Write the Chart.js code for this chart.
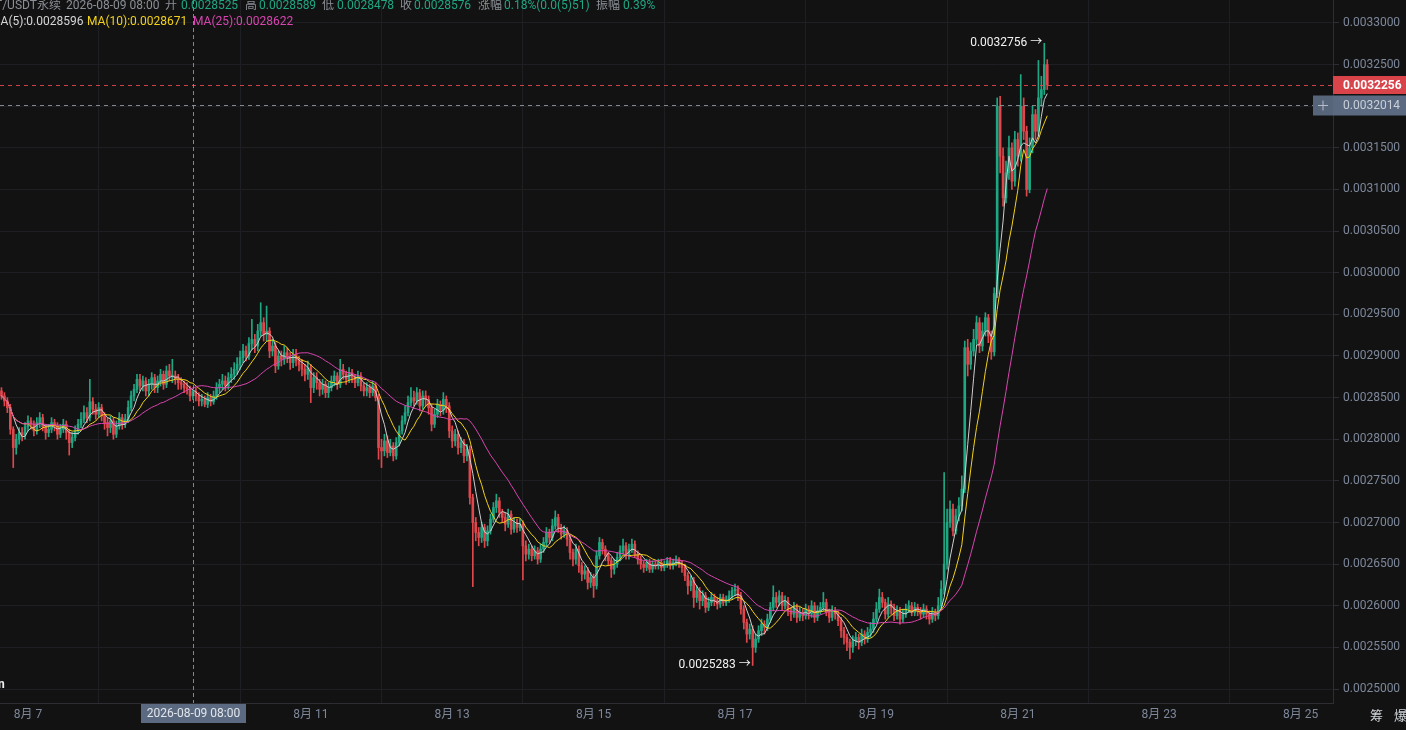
<!DOCTYPE html>
<html>
<head>
<meta charset="utf-8">
<script src="https://cdn.jsdelivr.net/npm/chart.js@4.4.1/dist/chart.umd.min.js"></script>
<style>
  html,body{margin:0;padding:0;background:#121212;overflow:hidden;}
  #wrap{position:relative;width:1406px;height:730px;background:#121212;}
  canvas{position:absolute;left:0;top:0;}
  .t{position:absolute;font-family:Roboto,"Noto Sans CJK SC",sans-serif;font-size:12px;line-height:12px;white-space:nowrap;}
  .g{color:#8b8f96;} .v{color:#1fa783;}
</style>
</head>
<body>
<div id="wrap">
  <canvas id="c" width="1406" height="730"></canvas>
  <!-- header row 1 -->
  <span class="t g" style="left:-5px;top:-1px">T/USDT永续</span>
  <span class="t g" style="left:66px;top:-1px">2026-08-09 08:00</span>
  <span class="t g" style="left:165px;top:-1px">开</span>
  <span class="t v" style="left:181px;top:-1px" id="hO"></span>
  <span class="t g" style="left:245px;top:-1px">高</span>
  <span class="t v" style="left:259px;top:-1px" id="hH"></span>
  <span class="t g" style="left:322px;top:-1px">低</span>
  <span class="t v" style="left:337px;top:-1px" id="hL"></span>
  <span class="t g" style="left:400px;top:-1px">收</span>
  <span class="t v" style="left:414px;top:-1px" id="hC"></span>
  <span class="t g" style="left:478px;top:-1px">涨幅</span>
  <span class="t v" style="left:504px;top:-1px">0.18%(0.0(5)51)</span>
  <span class="t g" style="left:596px;top:-1px">振幅</span>
  <span class="t v" style="left:623px;top:-1px">0.39%</span>
  <!-- header row 2 -->
  <span class="t" style="left:-10px;top:15px;color:#d6d6d6" id="m5"></span>
  <span class="t" style="left:87px;top:15px;color:#f2d21b" id="m10"></span>
  <span class="t" style="left:193px;top:15px;color:#d845b0" id="m25"></span>
  <span class="t" style="left:1370px;top:709px;color:#cfd3d8;font-size:13px;line-height:13px">筹</span>
  <span class="t" style="left:1394px;top:709px;color:#cfd3d8;font-size:13px;line-height:13px">爆</span>
  <span class="t" style="left:-2px;top:678px;color:#f0f0f0;font-weight:bold;font-size:12px">n</span>
</div>
<script>
// ---------- DATA (hourly candles, hour index relative to 2026-08-07 00:00) ----------
const START_HOUR = -9;          // first candle: 2026-08-06 15:00
const FIRST_OPEN = 0.002858;
const CLOSE = [
0.002852,0.002846,0.002838,0.002812,0.002790,0.002800,0.002808,0.002805,0.002815,0.002822,0.002818,0.002810,
0.002820,0.002826,0.002815,0.002808,0.002812,0.002820,0.002816,0.002806,0.002812,0.002818,0.002808,0.002796,
0.002802,0.002810,0.002818,0.002824,0.002832,0.002826,0.002845,0.002836,0.002830,0.002838,0.002828,0.002820,
0.002814,0.002822,0.002806,0.002816,0.002826,0.002818,0.002824,0.002838,0.002852,0.002860,0.002872,0.002864,
0.002870,0.002858,0.002866,0.002874,0.002862,0.002870,0.002878,0.002866,0.002882,0.002876,0.002876,0.002872,
0.002868,0.002866,0.002862,0.002860,0.002852,0.0028576,0.002852,0.002846,0.002848,0.002842,0.002850,0.002845,
0.002852,0.002862,0.002866,0.002870,0.002864,0.002874,0.002878,0.002884,0.002890,0.002898,0.002906,0.002900,
0.002915,0.002920,0.002912,0.002930,0.002940,0.002926,0.002930,0.002906,0.002912,0.002888,0.002900,0.002896,
0.002904,0.002898,0.002892,0.002902,0.002894,0.002890,0.002884,0.002878,0.002886,0.002862,0.002874,0.002868,
0.002860,0.002866,0.002856,0.002862,0.002870,0.002876,0.002866,0.002884,0.002878,0.002872,0.002880,0.002874,
0.002868,0.002876,0.002864,0.002858,0.002862,0.002856,0.002864,0.002850,0.002790,0.002786,0.002798,0.002784,
0.002792,0.002780,0.002796,0.002810,0.002822,0.002832,0.002844,0.002850,0.002846,0.002856,0.002840,0.002852,
0.002848,0.002838,0.002818,0.002830,0.002842,0.002835,0.002848,0.002840,0.002810,0.002798,0.002806,0.002790,
0.002796,0.002780,0.002788,0.002730,0.002700,0.002688,0.002682,0.002694,0.002678,0.002690,0.002704,0.002718,
0.002726,0.002712,0.002706,0.002698,0.002710,0.002692,0.002700,0.002694,0.002698,0.002672,0.002662,0.002668,
0.002660,0.002666,0.002656,0.002668,0.002676,0.002688,0.002682,0.002696,0.002706,0.002694,0.002686,0.002690,
0.002680,0.002664,0.002656,0.002668,0.002648,0.002638,0.002642,0.002628,0.002634,0.002624,0.002660,0.002676,
0.002668,0.002660,0.002654,0.002644,0.002650,0.002658,0.002666,0.002672,0.002660,0.002668,0.002674,0.002662,
0.002656,0.002650,0.002646,0.002652,0.002644,0.002650,0.002648,0.002652,0.002646,0.002650,0.002654,0.002648,
0.002652,0.002656,0.002650,0.002646,0.002636,0.002624,0.002630,0.002610,0.002618,0.002606,0.002612,0.002598,
0.002604,0.002610,0.002606,0.002602,0.002610,0.002604,0.002608,0.002612,0.002618,0.002620,0.002612,0.002596,
0.002580,0.002566,0.002572,0.002550,0.002560,0.002570,0.002578,0.002574,0.002584,0.002598,0.002610,0.002604,
0.002612,0.002600,0.002606,0.002594,0.002590,0.002598,0.002586,0.002592,0.002588,0.002596,0.002590,0.002600,
0.002586,0.002594,0.002598,0.002604,0.002592,0.002586,0.002594,0.002590,0.002582,0.002570,0.002562,0.002556,
0.002550,0.002558,0.002562,0.002556,0.002566,0.002560,0.002568,0.002572,0.002584,0.002596,0.002610,0.002604,
0.002590,0.002602,0.002598,0.002588,0.002594,0.002584,0.002590,0.002596,0.002600,0.002592,0.002598,0.002594,
0.002590,0.002596,0.002590,0.002584,0.002592,0.002588,0.002600,0.002620,0.002650,0.002700,0.002716,0.002690,
0.002708,0.002720,0.002740,0.002910,0.002890,0.002906,0.002920,0.002940,0.002912,0.002930,0.002946,0.002924,
0.002905,0.002975,0.003200,0.003140,0.003090,0.003120,0.003150,0.003110,0.003160,0.003140,0.003200,0.003170,
0.003100,0.003150,0.003190,0.003170,0.003210,0.003220,0.003250,0.0032256
];
const HIGH = [
0.002862,0.002856,0.002850,0.002842,0.002815,0.002806,0.002814,0.002814,0.002820,0.002828,0.002826,0.002822,
0.002826,0.002832,0.002830,0.002818,0.002818,0.002826,0.002824,0.002820,0.002818,0.002824,0.002822,0.002812,
0.002808,0.002816,0.002824,0.002832,0.002840,0.002838,0.002872,0.002850,0.002842,0.002844,0.002842,0.002832,
0.002826,0.002828,0.002826,0.002822,0.002832,0.002830,0.002830,0.002846,0.002858,0.002866,0.002878,0.002878,
0.002876,0.002874,0.002872,0.002880,0.002878,0.002876,0.002884,0.002882,0.002888,0.002890,0.002896,0.002882,
0.002878,0.002874,0.002870,0.002868,0.002864,0.0028589,0.002862,0.002856,0.002854,0.002852,0.002856,0.002854,
0.002858,0.002868,0.002872,0.002878,0.002876,0.002880,0.002886,0.002892,0.002898,0.002906,0.002914,0.002912,
0.002922,0.002944,0.002926,0.002938,0.002964,0.002946,0.002960,0.002934,0.002920,0.002916,0.002906,0.002906,
0.002912,0.002910,0.002904,0.002908,0.002908,0.002900,0.002896,0.002890,0.002894,0.002890,0.002880,0.002880,
0.002872,0.002872,0.002870,0.002868,0.002876,0.002882,0.002880,0.002896,0.002890,0.002882,0.002886,0.002884,
0.002878,0.002882,0.002880,0.002868,0.002868,0.002866,0.002870,0.002868,0.002854,0.002800,0.002806,0.002804,
0.002800,0.002796,0.002802,0.002816,0.002828,0.002840,0.002852,0.002862,0.002858,0.002862,0.002860,0.002858,
0.002858,0.002852,0.002842,0.002836,0.002848,0.002846,0.002856,0.002852,0.002844,0.002816,0.002812,0.002810,
0.002802,0.002800,0.002794,0.002792,0.002734,0.002706,0.002694,0.002700,0.002698,0.002696,0.002710,0.002724,
0.002734,0.002730,0.002716,0.002712,0.002716,0.002714,0.002706,0.002704,0.002704,0.002702,0.002678,0.002674,
0.002672,0.002672,0.002670,0.002674,0.002682,0.002694,0.002692,0.002704,0.002714,0.002710,0.002698,0.002696,
0.002694,0.002684,0.002668,0.002674,0.002672,0.002652,0.002648,0.002646,0.002640,0.002638,0.002666,0.002682,
0.002680,0.002672,0.002664,0.002658,0.002656,0.002664,0.002672,0.002680,0.002676,0.002674,0.002680,0.002678,
0.002666,0.002660,0.002654,0.002656,0.002656,0.002654,0.002654,0.002656,0.002656,0.002654,0.002658,0.002658,
0.002656,0.002660,0.002658,0.002654,0.002650,0.002640,0.002636,0.002634,0.002624,0.002622,0.002618,0.002616,
0.002610,0.002616,0.002614,0.002610,0.002614,0.002614,0.002612,0.002618,0.002622,0.002626,0.002624,0.002616,
0.002600,0.002584,0.002578,0.002576,0.002566,0.002576,0.002584,0.002582,0.002590,0.002604,0.002624,0.002616,
0.002618,0.002616,0.002612,0.002610,0.002598,0.002604,0.002602,0.002598,0.002596,0.002602,0.002600,0.002606,
0.002604,0.002600,0.002604,0.002616,0.002608,0.002596,0.002600,0.002598,0.002594,0.002586,0.002574,0.002566,
0.002560,0.002564,0.002568,0.002566,0.002572,0.002570,0.002574,0.002580,0.002592,0.002604,0.002620,0.002616,
0.002608,0.002610,0.002606,0.002602,0.002600,0.002598,0.002596,0.002602,0.002606,0.002604,0.002604,0.002602,
0.002598,0.002602,0.002600,0.002594,0.002598,0.002596,0.002610,0.002630,0.002760,0.002716,0.002726,0.002722,
0.002716,0.002730,0.002756,0.002918,0.002920,0.002916,0.002932,0.002948,0.002946,0.002940,0.002952,0.002950,
0.002930,0.002982,0.003210,0.003212,0.003150,0.003134,0.003164,0.003156,0.003170,0.003168,0.003238,0.003210,
0.003176,0.003162,0.003200,0.003196,0.003255,0.003236,0.0032756,0.003256
];
const LOW = [
0.002848,0.002840,0.002832,0.002806,0.002766,0.002782,0.002794,0.002798,0.002800,0.002810,0.002812,0.002804,
0.002806,0.002814,0.002810,0.002800,0.002803,0.002808,0.002810,0.002800,0.002802,0.002808,0.002800,0.002781,
0.002790,0.002798,0.002806,0.002814,0.002820,0.002820,0.002822,0.002830,0.002824,0.002826,0.002822,0.002812,
0.002804,0.002808,0.002800,0.002802,0.002812,0.002812,0.002814,0.002820,0.002834,0.002846,0.002856,0.002858,
0.002858,0.002852,0.002852,0.002860,0.002856,0.002856,0.002864,0.002860,0.002862,0.002870,0.002868,0.002866,
0.002860,0.002860,0.002856,0.002854,0.002846,0.0028478,0.002846,0.002840,0.002840,0.002839,0.002838,0.002840,
0.002842,0.002848,0.002856,0.002860,0.002858,0.002860,0.002868,0.002872,0.002878,0.002884,0.002892,0.002894,
0.002896,0.002908,0.002904,0.002906,0.002924,0.002918,0.002918,0.002898,0.002900,0.002880,0.002884,0.002888,
0.002890,0.002892,0.002884,0.002886,0.002888,0.002882,0.002876,0.002870,0.002872,0.002844,0.002856,0.002860,
0.002852,0.002854,0.002850,0.002850,0.002858,0.002864,0.002860,0.002862,0.002872,0.002866,0.002868,0.002868,
0.002862,0.002864,0.002858,0.002852,0.002852,0.002850,0.002852,0.002846,0.002776,0.002766,0.002780,0.002778,
0.002780,0.002774,0.002776,0.002792,0.002806,0.002818,0.002828,0.002840,0.002840,0.002842,0.002834,0.002836,
0.002840,0.002830,0.002810,0.002814,0.002826,0.002828,0.002830,0.002832,0.002802,0.002790,0.002792,0.002782,
0.002784,0.002772,0.002774,0.002722,0.002623,0.002678,0.002672,0.002676,0.002670,0.002672,0.002686,0.002700,
0.002712,0.002706,0.002700,0.002690,0.002694,0.002686,0.002688,0.002688,0.002690,0.002631,0.002654,0.002656,
0.002654,0.002656,0.002650,0.002652,0.002664,0.002672,0.002676,0.002678,0.002692,0.002688,0.002680,0.002682,
0.002672,0.002656,0.002648,0.002650,0.002640,0.002630,0.002632,0.002620,0.002622,0.002610,0.002620,0.002656,
0.002662,0.002654,0.002648,0.002634,0.002638,0.002646,0.002654,0.002662,0.002656,0.002656,0.002664,0.002658,
0.002650,0.002644,0.002640,0.002642,0.002640,0.002640,0.002644,0.002644,0.002642,0.002642,0.002646,0.002644,
0.002644,0.002648,0.002646,0.002640,0.002630,0.002614,0.002618,0.002598,0.002604,0.002596,0.002600,0.002592,
0.002594,0.002600,0.002600,0.002596,0.002598,0.002600,0.002600,0.002604,0.002608,0.002612,0.002606,0.002590,
0.002572,0.002556,0.002560,0.0025283,0.002544,0.002556,0.002564,0.002566,0.002570,0.002580,0.002594,0.002598,
0.002600,0.002594,0.002596,0.002588,0.002582,0.002586,0.002580,0.002582,0.002582,0.002584,0.002584,0.002586,
0.002580,0.002582,0.002590,0.002594,0.002588,0.002580,0.002582,0.002584,0.002576,0.002562,0.002554,0.002546,
0.002536,0.002544,0.002552,0.002548,0.002552,0.002554,0.002556,0.002562,0.002568,0.002580,0.002592,0.002598,
0.002584,0.002586,0.002590,0.002582,0.002584,0.002578,0.002580,0.002586,0.002592,0.002588,0.002588,0.002588,
0.002584,0.002586,0.002584,0.002578,0.002580,0.002582,0.002584,0.002596,0.002614,0.002644,0.002694,0.002684,
0.002686,0.002702,0.002714,0.002736,0.002876,0.002884,0.002900,0.002914,0.002904,0.002906,0.002924,0.002916,
0.002896,0.002900,0.002970,0.003120,0.003080,0.003084,0.003112,0.003100,0.003104,0.003128,0.003134,0.003160,
0.003092,0.003096,0.003144,0.003160,0.003164,0.003200,0.003214,0.003220
];
const MA_PERIODS = [5, 10, 25];
const X_TICK_HOURS  = [0, 48, 96, 144, 192, 240, 288, 336, 384, 432];
const X_TICK_LABELS = ['8月 7','8月 9','8月 11','8月 13','8月 15','8月 17','8月 19','8月 21','8月 23','8月 25'];
const Y_TICKS = [0.0025,0.00255,0.0026,0.00265,0.0027,0.00275,0.0028,0.00285,0.0029,0.00295,0.003,0.00305,0.0031,0.00315,0.0032,0.00325,0.0033];
const LAST_PRICE = 0.0032256;
const CROSS_PRICE = 0.0032014;
const CROSS_HOUR = 56;                 // 2026-08-09 08:00
const CROSS_LABEL = '2026-08-09 08:00';
const HEAD = {open:0.0028525, high:0.0028589, low:0.0028478, close:0.0028576, ma5:0.0028596, ma10:0.0028671, ma25:0.0028622};

// ---------- view / style ----------
const X_MIN = -9.5, X_MAX = 443;
const Y_MIN = 0.0024832, Y_MAX = 0.0033276;
const UP = '#1fa783', DOWN = '#e0474c';
const GRID = '#1e1f22', AXIS = '#2c2e33', TICK = '#7d889b';
const FONT = 'Roboto, "Noto Sans CJK SC", sans-serif';

document.getElementById('hO').textContent = HEAD.open.toFixed(7);
document.getElementById('hH').textContent = HEAD.high.toFixed(7);
document.getElementById('hL').textContent = HEAD.low.toFixed(7);
document.getElementById('hC').textContent = HEAD.close.toFixed(7);
document.getElementById('m5').textContent = 'MA(5):' + HEAD.ma5.toFixed(7);
document.getElementById('m10').textContent = 'MA(10):' + HEAD.ma10.toFixed(7);
document.getElementById('m25').textContent = 'MA(25):' + HEAD.ma25.toFixed(7);

const OPEN = CLOSE.map((c, i) => i === 0 ? FIRST_OPEN : CLOSE[i - 1]);
const HOURS = CLOSE.map((_, i) => START_HOUR + i);
const COLORS = CLOSE.map((c, i) => c >= OPEN[i] ? UP : DOWN);

function movingAverage(vals, n) {
  return vals.map((_, i) => {
    const s = Math.max(0, i - n + 1);
    let t = 0;
    for (let j = s; j <= i; j++) t += vals[j];
    return t / (i - s + 1);
  });
}
const MA_COLORS = ['#cfcfcf', '#f2d21b', '#d845b0'];

const datasets = [
  { type: 'bar', label: 'wick', order: 3, grouped: false, barThickness: 1, borderWidth: 0,
    data: HOURS.map((h, i) => ({ x: h, y: [LOW[i], HIGH[i]] })), backgroundColor: COLORS },
  { type: 'bar', label: 'body', order: 2, grouped: false, barThickness: 2, borderWidth: 0, minBarLength: 1,
    data: HOURS.map((h, i) => ({ x: h, y: [Math.min(OPEN[i], CLOSE[i]), Math.max(OPEN[i], CLOSE[i])] })), backgroundColor: COLORS }
];
MA_PERIODS.forEach((p, k) => {
  const ma = movingAverage(CLOSE, p);
  datasets.push({ type: 'line', label: 'MA' + p, order: 1 - k * 0.1, borderColor: MA_COLORS[k], borderWidth: 1,
    pointRadius: 0, tension: 0, fill: false, data: HOURS.map((h, i) => ({ x: h, y: ma[i] })) });
});

const overlay = {
  id: 'overlay',
  afterDraw(chart) {
    const { ctx, chartArea: a, scales: { x, y } } = chart;
    const W = chart.width;
    ctx.save();
    ctx.lineWidth = 1;
    // last price dashed line
    const yl = Math.round(y.getPixelForValue(LAST_PRICE)) + 0.5;
    ctx.setLineDash([4, 4]);
    ctx.strokeStyle = 'rgba(224,71,76,0.9)';
    ctx.beginPath(); ctx.moveTo(a.left, yl); ctx.lineTo(a.right, yl); ctx.stroke();
    // crosshair
    const yc = Math.round(y.getPixelForValue(CROSS_PRICE)) + 0.5;
    const xc = Math.round(x.getPixelForValue(CROSS_HOUR)) + 0.5;
    ctx.strokeStyle = 'rgba(150,155,165,0.85)';
    ctx.beginPath(); ctx.moveTo(a.left, yc); ctx.lineTo(a.right, yc); ctx.stroke();
    ctx.setLineDash([4, 3]);
    ctx.beginPath(); ctx.moveTo(xc, a.top); ctx.lineTo(xc, a.bottom); ctx.stroke();
    ctx.setLineDash([]);
    // last price box
    ctx.fillStyle = '#d9434a';
    ctx.fillRect(a.right, yl - 9.5, W - a.right, 18);
    ctx.font = 'bold 12px ' + FONT;
    ctx.textBaseline = 'middle'; ctx.textAlign = 'left';
    ctx.fillStyle = '#ffffff';
    ctx.fillText(LAST_PRICE.toFixed(7), a.right + 10, yl);
    // crosshair price box with + button
    ctx.fillStyle = '#56657a';
    ctx.fillRect(a.right - 20, yc - 10, 20, 20);
    ctx.fillStyle = '#5b6a80';
    ctx.fillRect(a.right, yc - 10, W - a.right, 20);
    ctx.strokeStyle = '#b5bdc9';
    ctx.beginPath();
    ctx.moveTo(a.right - 15, yc); ctx.lineTo(a.right - 5, yc);
    ctx.moveTo(a.right - 10, yc - 5); ctx.lineTo(a.right - 10, yc + 5);
    ctx.stroke();
    ctx.font = '12px ' + FONT;
    ctx.fillStyle = '#c9d0da';
    ctx.fillText(CROSS_PRICE.toFixed(7), a.right + 10, yc);
    // crosshair time box
    ctx.fillStyle = '#5b6a80';
    ctx.fillRect(xc - 52.5, a.bottom + 1, 105, 19);
    ctx.fillStyle = '#e2e6ec';
    ctx.textAlign = 'center';
    ctx.fillText(CROSS_LABEL, xc, a.bottom + 11);
    // high / low marks
    let hi = 0, lo = 0;
    HIGH.forEach((v, i) => { if (v > HIGH[hi]) hi = i; });
    LOW.forEach((v, i) => { if (v < LOW[lo]) lo = i; });
    ctx.fillStyle = '#f2f2f2';
    ctx.textAlign = 'right';
    ctx.font = '12px ' + FONT;
    ctx.fillText(HIGH[hi].toFixed(7) + ' →', x.getPixelForValue(HOURS[hi]) - 2, y.getPixelForValue(HIGH[hi]));
    ctx.fillText(LOW[lo].toFixed(7) + ' →', x.getPixelForValue(HOURS[lo]) - 2, y.getPixelForValue(LOW[lo]));
    ctx.restore();
  }
};

new Chart(document.getElementById('c'), {
  type: 'bar',
  data: { datasets },
  options: {
    responsive: false,
    animation: false,
    events: [],
    layout: { padding: 0 },
    plugins: { legend: { display: false }, tooltip: { enabled: false } },
    scales: {
      x: {
        type: 'linear', min: X_MIN, max: X_MAX, offset: false,
        grid: { color: GRID, drawTicks: false },
        border: { color: AXIS },
        ticks: { color: TICK, font: { size: 12, family: FONT }, padding: 5, maxRotation: 0, autoSkip: false,
                 callback: (v, i) => X_TICK_LABELS[i] },
        afterBuildTicks: s => { s.ticks = X_TICK_HOURS.map(v => ({ value: v })); },
        afterFit: s => { s.height = 27; s.paddingLeft = 0; s.paddingRight = 0; }
      },
      y: {
        position: 'right', min: Y_MIN, max: Y_MAX,
        grid: { color: GRID, tickLength: 6, tickColor: AXIS },
        border: { color: AXIS },
        ticks: { color: TICK, font: { size: 12, family: FONT }, padding: 4, callback: v => Number(v).toFixed(7) },
        afterBuildTicks: s => { s.ticks = Y_TICKS.map(v => ({ value: v })); },
        afterFit: s => { s.width = 73; s.paddingTop = 0; s.paddingBottom = 0; }
      }
    }
  },
  plugins: [overlay]
});
</script>
</body>
</html>
